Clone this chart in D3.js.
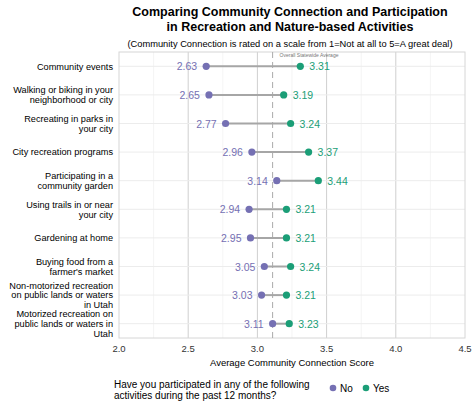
<!DOCTYPE html>
<html><head><meta charset="utf-8">
<script src="https://cdn.jsdelivr.net/npm/d3@7"></script>
<style>body{margin:0;background:#fff;font-family:"Liberation Sans",Arial,sans-serif}</style>
</head><body><svg id="chart" width="474" height="406"></svg>
<script>
const categories = ['Community events', 'Walking or biking in your\nneighborhood or city', 'Recreating in parks in\nyour city',
  'City recreation programs', 'Participating in a\ncommunity garden', 'Using trails in or near\nyour city', 'Gardening at home',
  "Buying food from a\nfarmer's market", 'Non-motorized recreation\non public lands or waters\nin Utah',
  'Motorized recreation on\npublic lands or waters in\nUtah']
const noValues = [2.63, 2.65, 2.77, 2.96, 3.14, 2.94, 2.95, 3.05, 3.03, 3.11]
const yesValues = [3.31, 3.19, 3.24, 3.37, 3.44, 3.21, 3.21, 3.24, 3.21, 3.23]
const xTicks = [2.0, 2.5, 3.0, 3.5, 4.0, 4.5]
const statewideAvg = 3.11
const purple = '#7570b3', green = '#1b9e77'

const svg = d3.select('#chart')
const x = d3.scaleLinear().domain([2, 4.5]).range([119, 465])
const y = d3.scaleBand().domain(categories).range([52, 338]).padding(0)

// titles
svg.append('text').attr('x', 290).attr('y', 16).attr('text-anchor', 'middle')
  .style('font-size', '12.5px').style('font-weight', 'bold').text('Comparing Community Connection and Participation')
svg.append('text').attr('x', 290).attr('y', 31).attr('text-anchor', 'middle')
  .style('font-size', '12.5px').style('font-weight', 'bold').text('in Recreation and Nature-based Activities')
svg.append('text').attr('x', 290).attr('y', 47).attr('text-anchor', 'middle')
  .style('font-size', '9.3px').text('(Community Connection is rated on a scale from 1=Not at all to 5=A great deal)')

// panel
const g = svg.append('g')
d3.range(2.25, 4.5, 0.5).forEach(v => g.append('line').attr('x1', x(v)).attr('x2', x(v)).attr('y1', 52).attr('y2', 338)
  .attr('stroke', '#ececec').attr('stroke-width', 0.6))
xTicks.slice(1, -1).forEach(v => g.append('line').attr('x1', x(v)).attr('x2', x(v)).attr('y1', 52).attr('y2', 338)
  .attr('stroke', '#cfcfcf').attr('stroke-width', 1))
categories.forEach(c => g.append('line').attr('x1', x(2)).attr('x2', x(4.5))
  .attr('y1', y(c) + y.bandwidth() / 2).attr('y2', y(c) + y.bandwidth() / 2).attr('stroke', '#ececec'))
g.append('rect').attr('x', x(2)).attr('y', 52).attr('width', x(4.5) - x(2)).attr('height', 286)
  .attr('fill', 'none').attr('stroke', '#d6d6d6')

g.append('line').attr('x1', x(statewideAvg)).attr('x2', x(statewideAvg)).attr('y1', 52).attr('y2', 338)
  .attr('stroke', '#aaa').attr('stroke-dasharray', '6,4')
g.append('text').attr('x', x(statewideAvg) + 7).attr('y', 57).style('font-size', '5px').attr('fill', '#777')
  .text('Overall Statewide Average')

// y labels
categories.forEach(c => {
  const lines = c.split('\n'), cy = y(c) + y.bandwidth() / 2
  const t = svg.append('text').attr('text-anchor', 'end').style('font-size', '9.2px')
  lines.forEach((l, i) => t.append('tspan').attr('x', 113)
    .attr('y', cy + 3.3 + (i - (lines.length - 1) / 2) * 9.8).text(l))
})

// dumbbells
categories.forEach((c, i) => {
  const cy = y(c) + y.bandwidth() / 2
  g.append('line').attr('x1', x(noValues[i])).attr('x2', x(yesValues[i])).attr('y1', cy).attr('y2', cy)
    .attr('stroke', '#a6a6a6').attr('stroke-width', 2)
  g.append('circle').attr('cx', x(noValues[i])).attr('cy', cy).attr('r', 3.6).attr('fill', purple)
  g.append('circle').attr('cx', x(yesValues[i])).attr('cy', cy).attr('r', 3.6).attr('fill', green)
  g.append('text').attr('x', x(noValues[i]) - 9).attr('y', cy + 4).attr('text-anchor', 'end')
    .style('font-size', '10.5px').attr('fill', purple).text(noValues[i].toFixed(2))
  g.append('text').attr('x', x(yesValues[i]) + 9).attr('y', cy + 4)
    .style('font-size', '10.5px').attr('fill', green).text(yesValues[i].toFixed(2))
})

// axis
xTicks.forEach(v => svg.append('text').attr('x', x(v)).attr('y', 352).attr('text-anchor', 'middle')
  .style('font-size', '9.5px').attr('fill', '#333').text(v.toFixed(1)))
svg.append('text').attr('x', x(3.25)).attr('y', 366).attr('text-anchor', 'middle')
  .style('font-size', '9.5px').text('Average Community Connection Score')

// legend
svg.append('text').attr('x', 114).attr('y', 388).style('font-size', '10px').text('Have you participated in any of the following')
svg.append('text').attr('x', 114).attr('y', 399).style('font-size', '10px').text('activities during the past 12 months?')
;[['No', purple, 333], ['Yes', green, 366]].forEach(([t, col, lx]) => {
  svg.append('circle').attr('cx', lx).attr('cy', 388).attr('r', 3.3).attr('fill', col)
  svg.append('text').attr('x', lx + 7).attr('y', 391.5).style('font-size', '10px').text(t)
})
</script></body></html>
